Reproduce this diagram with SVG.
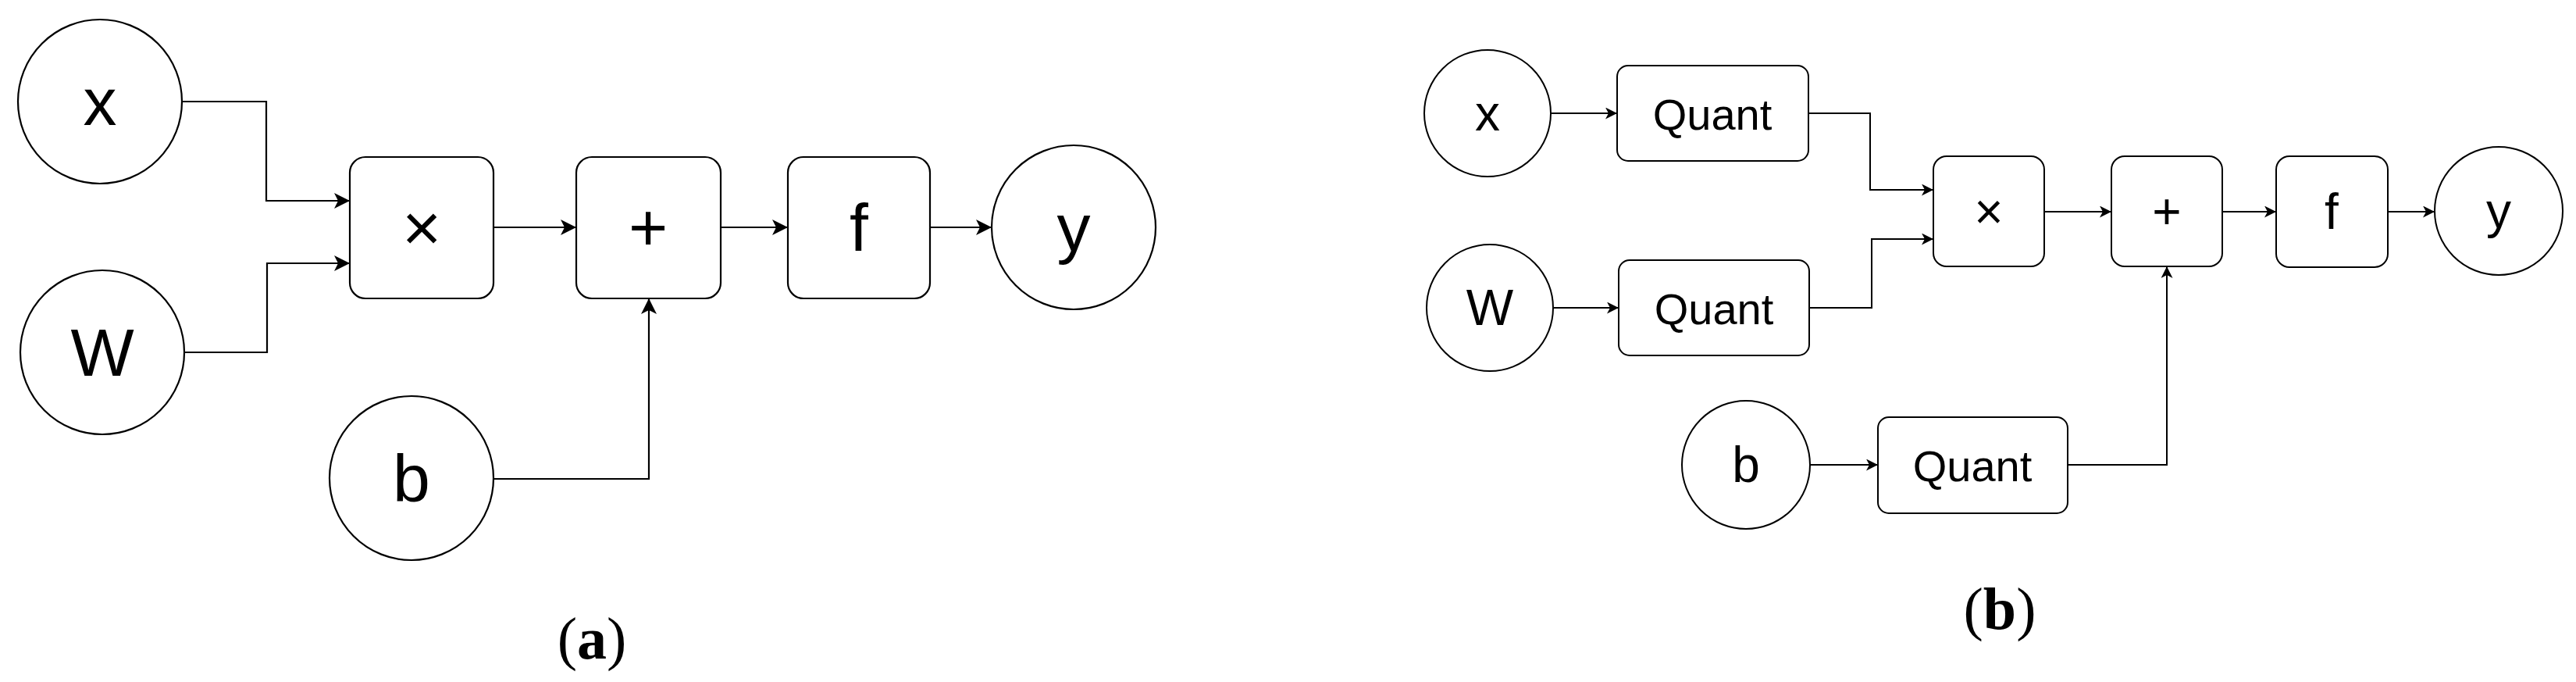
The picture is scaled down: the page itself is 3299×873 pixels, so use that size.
<svg xmlns="http://www.w3.org/2000/svg" width="3299" height="873" viewBox="0 0 3299 873">
<style>
.shape{fill:#fff;stroke:#000;stroke-width:2.2}
.shapeb{fill:#fff;stroke:#000;stroke-width:2}
.edge{fill:none;stroke:#000;stroke-width:2.2}
.edgeb{fill:none;stroke:#000;stroke-width:2}
.ta{font-family:"Liberation Sans",Arial,sans-serif;font-size:86px;text-anchor:middle;fill:#000}
.tb{font-family:"Liberation Sans",Arial,sans-serif;font-size:64px;text-anchor:middle;fill:#000}
.tq{font-family:"Liberation Sans",Arial,sans-serif;font-size:56px;text-anchor:middle;fill:#000}
.cap{font-family:"Liberation Serif","Times New Roman",serif;font-size:76px;text-anchor:middle;fill:#000}
.bold{font-weight:bold}
</style>
<defs>
<marker id="arrA" markerUnits="userSpaceOnUse" markerWidth="20" markerHeight="20" refX="20" refY="10" orient="auto">
<path d="M0,0 L20,10 L0,20 L5,10 Z" fill="#000"/>
</marker>
<marker id="arrB" markerUnits="userSpaceOnUse" markerWidth="15" markerHeight="15" refX="15" refY="7.5" orient="auto">
<path d="M0,0 L15,7.5 L0,15 L4,7.5 Z" fill="#000"/>
</marker>
</defs>

<g id="connectors">
<path class="edge" d="M234,130 H341 V257 H448" marker-end="url(#arrA)"/>
<path class="edge" d="M236,451 H342 V337 H448" marker-end="url(#arrA)"/>
<path class="edge" d="M632,291 H738" marker-end="url(#arrA)"/>
<path class="edge" d="M632,613 H831 V382" marker-end="url(#arrA)"/>
<path class="edge" d="M923,291 H1009" marker-end="url(#arrA)"/>
<path class="edge" d="M1191,291 H1270" marker-end="url(#arrA)"/>

<path class="edgeb" d="M1987,145 H2071" marker-end="url(#arrB)"/>
<path class="edgeb" d="M1989,394 H2073" marker-end="url(#arrB)"/>
<path class="edgeb" d="M2317,595 H2405" marker-end="url(#arrB)"/>
<path class="edgeb" d="M2316,145 H2395 V243 H2476" marker-end="url(#arrB)"/>
<path class="edgeb" d="M2317,394 H2397 V306 H2476" marker-end="url(#arrB)"/>
<path class="edgeb" d="M2648,595 H2775 V341" marker-end="url(#arrB)"/>
<path class="edgeb" d="M2618,271 H2704" marker-end="url(#arrB)"/>
<path class="edgeb" d="M2846,271 H2915" marker-end="url(#arrB)"/>
<path class="edgeb" d="M3058,271 H3118" marker-end="url(#arrB)"/>
</g>

<g id="a-x"><circle class="shape" cx="128" cy="130" r="105"/><text class="ta" x="128" y="160">x</text></g>
<g id="a-W"><circle class="shape" cx="131" cy="451" r="105"/><text class="ta" x="131" y="481">W</text></g>
<g id="a-b"><circle class="shape" cx="527" cy="612" r="105"/><text class="ta" x="527" y="642">b</text></g>
<g id="a-mul"><rect class="shape" x="448" y="201" width="184" height="181" rx="20" ry="20"/><text class="ta" x="540" y="321">×</text></g>
<g id="a-add"><rect class="shape" x="738" y="201" width="185" height="181" rx="20" ry="20"/><text class="ta" x="830" y="321">+</text></g>
<g id="a-f"><rect class="shape" x="1009" y="201" width="182" height="181" rx="20" ry="20"/><text class="ta" x="1100" y="321">f</text></g>
<g id="a-y"><circle class="shape" cx="1375" cy="291" r="105"/><text class="ta" x="1375" y="321">y</text></g>
<g id="label-a"><text class="cap" x="758" y="843">(<tspan class="bold">a</tspan>)</text></g>

<g id="b-x"><circle class="shapeb" cx="1905" cy="145" r="81"/><text class="tb" x="1905" y="167">x</text></g>
<g id="b-W"><circle class="shapeb" cx="1908" cy="394" r="81"/><text class="tb" x="1908" y="416">W</text></g>
<g id="b-b"><circle class="shapeb" cx="2236" cy="595" r="82"/><text class="tb" x="2236" y="617">b</text></g>
<g id="b-q1"><rect class="shapeb" x="2071" y="84" width="245" height="122" rx="14" ry="14"/><text class="tq" x="2193" y="166">Quant</text></g>
<g id="b-q2"><rect class="shapeb" x="2073" y="333" width="244" height="122" rx="14" ry="14"/><text class="tq" x="2195" y="415">Quant</text></g>
<g id="b-q3"><rect class="shapeb" x="2405" y="534" width="243" height="123" rx="14" ry="14"/><text class="tq" x="2526" y="616">Quant</text></g>
<g id="b-mul"><rect class="shapeb" x="2476" y="200" width="142" height="141" rx="17" ry="17"/><text class="tb" x="2547" y="293">×</text></g>
<g id="b-add"><rect class="shapeb" x="2704" y="200" width="142" height="141" rx="17" ry="17"/><text class="tb" x="2775" y="293">+</text></g>
<g id="b-f"><rect class="shapeb" x="2915" y="200" width="143" height="142" rx="17" ry="17"/><text class="tb" x="2986" y="293">f</text></g>
<g id="b-y"><circle class="shapeb" cx="3200" cy="270" r="82"/><text class="tb" x="3200" y="292">y</text></g>
<g id="label-b"><text class="cap" x="2561" y="805">(<tspan class="bold">b</tspan>)</text></g>
</svg>
